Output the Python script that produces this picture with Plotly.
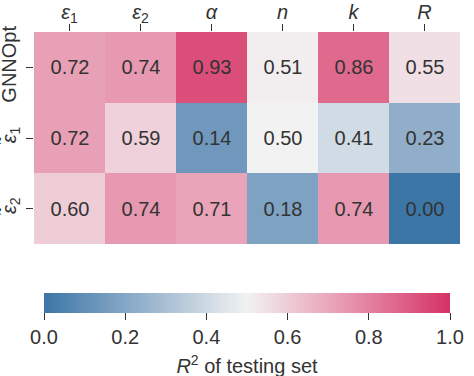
import plotly.graph_objects as go

cols = ["<i>ε</i><sub>1</sub>", "<i>ε</i><sub>2</sub>", "<i>α</i>", "<i>n</i>", "<i>k</i>", "<i>R</i>"]
rows = ["GNNOpt", "<i>ε̃</i><sub>1</sub>", "<i>ε̃</i><sub>2</sub>"]
r_gnnopt = [0.72, 0.74, 0.93, 0.51, 0.86, 0.55]
r_eps1 = [0.72, 0.59, 0.14, 0.50, 0.41, 0.23]
r_eps2 = [0.60, 0.74, 0.71, 0.18, 0.74, 0.00]
z = [r_gnnopt, r_eps1, r_eps2]

cscale = [
    [0.0, "#3c76a7"],
    [0.25, "#97b3cd"],
    [0.5, "#f2f2f2"],
    [0.75, "#e795ae"],
    [1.0, "#d63265"],
]

FONT = "Liberation Sans, Arial, sans-serif"
FS = 20

fig = go.Figure(go.Heatmap(
    z=z, x=cols, y=rows,
    zmin=0, zmax=1, colorscale=cscale,
    texttemplate="%{z:.2f}",
    textfont=dict(size=FS, color="#333333", family=FONT),
    colorbar=dict(
        orientation="h",
        lenmode="pixels", len=426,
        thickness=20,
        x=0.5, xanchor="center", xref="paper",
        y=(376 - 283) / 376, yanchor="top", yref="container",
        outlinewidth=0,
        ticks="outside", ticklen=7, tickcolor="#333333",
        tickvals=[0, 0.2, 0.4, 0.6, 0.8, 1.0],
        tickformat=".1f",
        tickfont=dict(size=FS, color="#333333", family=FONT),
        title=dict(text="<i>R</i><sup>2</sup> of testing set", side="bottom",
                   font=dict(size=FS, color="#333333", family=FONT)),
    ),
))

fig.update_layout(
    width=474, height=376,
    margin=dict(l=34, r=14, t=32, b=132, autoexpand=False),
    paper_bgcolor="white", plot_bgcolor="white",
    font=dict(family=FONT, color="#333333"),
)
fig.update_xaxes(side="top", ticks="outside", ticklen=7, tickcolor="#333333", automargin=False,
                 ticklabelstandoff=-3,
                 tickfont=dict(size=FS, color="#333333"), showgrid=False, zeroline=False)
fig.update_yaxes(autorange="reversed", ticks="outside", ticklen=7, tickcolor="#333333",
                 automargin=False, ticklabelstandoff=2,
                 tickangle=-90, tickfont=dict(size=FS, color="#333333"),
                 showgrid=False, zeroline=False)

fig.write_html("out.html", config={"displayModeBar": False},
               post_script="document.body.style.margin='0';")
